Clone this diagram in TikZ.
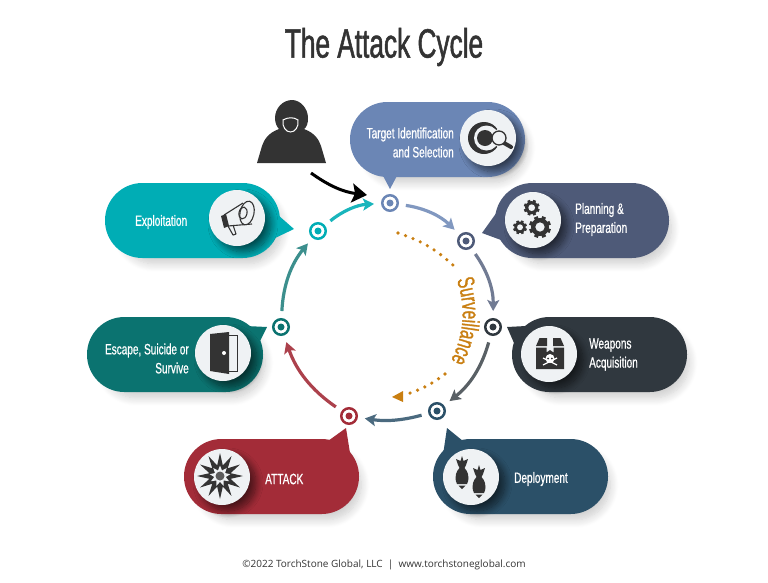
\documentclass[tikz,border=0pt]{standalone}
\usepackage{fontspec}
\usetikzlibrary{arrows.meta,shapes.geometric,decorations.text,shadows.blur}
\newfontfamily\labelfont[FakeStretch=0.67,FakeBold=0.7]{Liberation Sans}
\newfontfamily\titlefont[FakeStretch=0.64,FakeBold=1.2]{Liberation Sans}
\newfontfamily\footfont{Open Sans}
\definecolor{tgtc}{HTML}{6B86B5}
\definecolor{planc}{HTML}{4E5A78}
\definecolor{weapc}{HTML}{30383F}
\definecolor{depc}{HTML}{2B5068}
\definecolor{atkc}{HTML}{A32C38}
\definecolor{escc}{HTML}{0B7370}
\definecolor{expc}{HTML}{00ADB5}
\definecolor{survc}{HTML}{C97F12}
\definecolor{iconc}{HTML}{333333}
\definecolor{disc}{HTML}{EFF2F4}
\newcommand{\gearicon}[3]{
  \foreach \a in {0,45,...,315} \draw[iconc, line width=#3*0.36pt] (#1,#2) -- ++(\a+22:#3);
  \fill[iconc] (#1,#2) circle (#3*0.82pt);
  \fill[disc] (#1,#2) circle (#3*0.42pt);
}
\newcommand{\bombicon}[2]{
  \fill[iconc] (#1,#2-22) -- (#1+1.5,#2-17) -- (#1+6,#2-19) -- (#1+4,#2-13) -- (#1+2,#2-9) -- (#1-2,#2-9) -- (#1-4,#2-13) -- (#1-6,#2-19) -- (#1-1.5,#2-17) -- cycle;
  \fill[iconc] (#1-6.5,#2) .. controls (#1-6.5,#2-6) and (#1-3,#2-11) .. (#1,#2-11) .. controls (#1+3,#2-11) and (#1+6.5,#2-6) .. (#1+6.5,#2) .. controls (#1+6.5,#2+2) and (#1+6,#2+4) .. (#1+5,#2+6) -- (#1-5,#2+6) .. controls (#1-6,#2+4) and (#1-6.5,#2+2) .. (#1-6.5,#2) -- cycle;
  \fill[iconc] (#1-3.5,#2+7.5) -- (#1+3.5,#2+7.5) -- (#1,#2+11) -- cycle;
}
\begin{document}
\begin{tikzpicture}[x=1pt, y=-1pt,
    pill/.style={rounded corners=37.4pt, blur shadow={shadow scale=0.93, shadow xshift=9pt, shadow yshift=-9pt, shadow blur steps=12, shadow blur radius=9pt, shadow opacity=20}},
    icon/.style={circle, fill=disc, minimum size=56pt, inner sep=0pt, blur shadow={shadow xshift=6pt, shadow yshift=-6pt, shadow blur steps=12, shadow blur radius=7pt, shadow opacity=55}},
    ring/.style={circle, draw=#1, fill=white, line width=2.5pt, minimum size=15.5pt, inner sep=0pt, path picture={\fill[#1] (path picture bounding box.center) circle (3.5pt);}},
    conn/.style={-{Stealth[length=11pt, width=12pt, inset=2.5pt]}, line width=3.2pt, shorten >=7pt, shorten <=7pt, bend left=#1},
    lbl/.style={text=white, inner sep=0pt, font=\labelfont\fontsize{15}{19}\selectfont},
    dots/.style={survc, line width=3.6pt, line cap=round, dash pattern=on 0pt off 8pt}]
    \useasboundingbox (0,0) rectangle (768,582);
    \node[text=iconc, font=\titlefont\fontsize{41}{44}\selectfont] (title) at (384,47) {The Attack Cycle};

    \fill[pill, tgtc] (350,102) rectangle (525,177);
    \fill[tgtc] (381,172) -- (390,189) -- (399,172) -- cycle;
    \fill[pill, planc] (495,183) rectangle (669,258);
    \fill[planc] (497,212) -- (482,233) -- (501,240) -- cycle;
    \fill[pill, weapc] (512,317) rectangle (687,392);
    \fill[weapc] (526,326) -- (507,327) -- (514,343) -- cycle;
    \fill[pill, depc] (433,439) rectangle (608,514);
    \fill[depc] (463,441) -- (447,428) -- (443,455) -- cycle;
    \fill[pill, atkc] (184,439) rectangle (359,514);
    \fill[atkc] (328,441) -- (346,428) -- (350,453) -- cycle;
    \fill[pill, escc] (87,317) rectangle (263,392);
    \fill[escc] (246,326) -- (267,327) -- (258,345) -- cycle;
    \fill[pill, expc] (105,183) rectangle (280,258);
    \fill[expc] (278,215) -- (294,229) -- (271,240) -- cycle;

    \node[icon] (tgticon) at (488,138) {};
    \node[icon] (planicon) at (533,220) {};
    \node[icon] (weapicon) at (549,354) {};
    \node[icon] (depicon) at (471,477) {};
    \node[icon] (atkicon) at (222,477) {};
    \node[icon] (escicon) at (223,353) {};
    \node[icon] (expicon) at (237,218) {};

    \node[lbl, align=right, anchor=east] (tgtlbl) at (454,142.5) {Target Identification\\and Selection};
    \node[lbl, align=left, anchor=west] (planlbl) at (575,219.5) {Planning \&\\Preparation};
    \node[lbl, align=left, anchor=west] (weaplbl) at (589,354.5) {Weapons\\Acquisition};
    \node[lbl, anchor=west] (deplbl) at (514,479) {Deployment};
    \node[lbl, anchor=west] (atklbl) at (265,479) {ATTACK};
    \node[lbl, align=right, anchor=east] (esclbl) at (189,358.5) {Escape, Suicide or\\Survive};
    \node[lbl, anchor=west] (explbl) at (135,222) {Exploitation};

    \node[ring=tgtc] (tgt) at (390,203) {};
    \node[ring=planc] (plan) at (466,241) {};
    \node[ring=weapc] (weap) at (493,327) {};
    \node[ring=depc] (dep) at (437,411) {};
    \node[ring=atkc] (atk) at (349,416) {};
    \node[ring=escc] (esc) at (281,327) {};
    \node[ring=expc] (exp) at (318,231) {};

    \path (tgt) edge[conn=18, color=tgtc!85!white] (plan)
        (plan) edge[conn=18, color=planc!80!white] (weap)
        (weap) edge[conn=18, color=weapc!80!white] (dep)
        (dep) edge[conn=12, color=depc!85!white] (atk)
        (atk) edge[conn=18, color=atkc!90!white] (esc)
        (esc) edge[conn=18, color=escc!80!white] (exp)
        (exp) edge[conn=18, color=expc!90!white] (tgt);

    \fill[iconc] (292,100) .. controls (283,100) and (275,108) .. (275,118) .. controls (275,123) and (277,127) .. (279,129) .. controls (268,133) and (264,140) .. (262,146) -- (257,163) -- (326,163) -- (321,146) .. controls (319,140) and (315,133) .. (304,129) .. controls (307,127) and (308,123) .. (308,118) .. controls (308,108) and (300,100) .. (292,100) -- cycle;
    \draw[white, line width=1pt] (283,120) .. controls (288,117) and (294,117) .. (298,120) .. controls (299,127) and (295,132) .. (290.5,132) .. controls (286,132) and (282,127) .. (283,120) -- cycle;
    \coordinate (hoodend) at (311,173);
    \coordinate (hoodtip) at (367,195);
    \draw[black, -{Stealth[length=15pt, width=19pt, inset=3pt]}, line width=3pt] (hoodend) to[bend right=14] (hoodtip);

    \coordinate (dota) at (398,233);
    \coordinate (dotb) at (454,266);
    \coordinate (dotc) at (445,374);
    \coordinate (dotd) at (404,395);
    \draw[dots] (dota) to[bend left=12] (dotb);
    \draw[dots] (dotc) to[bend left=10] (dotd);
    \fill[survc] (392,397) -- (403,391) -- (403,402) -- cycle;
    \path[decorate, decoration={text along path, text align=center, text={|\titlefont\fontsize{24}{24}\selectfont\color{survc}|Surveillance}}] (454,272) to[bend left=25] (447,368);

    \fill[iconc] (484,138) circle (16pt);
    \fill[disc] (486.5,138) circle (12.5pt);
    \fill[disc] (488,138) -- (505,122) -- (505,154) -- cycle;
    \fill[iconc] (485,138) circle (8pt);
    \draw[iconc, line width=4pt, line cap=round] (504,143) -- (511,147);
    \draw[iconc, fill=disc, line width=1.3pt] (499,138) circle (7pt);

    \gearicon{540}{227}{11}
    \gearicon{531.7}{207.7}{8}
    \gearicon{520}{227.3}{7}

    \fill[iconc] (539.5,338) -- (547,338) -- (547,346) -- (536,346) -- cycle;
    \fill[iconc] (560.5,338) -- (553,338) -- (553,346) -- (564,346) -- cycle;
    \fill[iconc] (536,347.5) -- (546.5,347.5) -- (546.5,352.5) -- (550,350) -- (553.5,352.5) -- (553.5,347.5) -- (564,347.5) -- (564,369) -- (536,369) -- cycle;
    \draw[white, line width=1.2pt] (543,358) -- (557,365) (543,365) -- (557,358);
    \fill[white] (550,358.5) circle (4.5pt);
    \fill[iconc] (548.2,358.5) circle (1pt) (551.8,358.5) circle (1pt);

    \bombicon{462}{478}
    \bombicon{479}{487}

    \node[star, star points=12, star point ratio=2.1, minimum size=46pt, inner sep=0pt, fill=iconc] (blast) at (220,476) {};
    \node[star, star points=9, star point ratio=1.8, minimum size=21pt, inner sep=0pt, fill=disc] (blastin) at (220,476) {};
    \fill[iconc!80!white] (220,476) circle (4.5pt);

    \fill[iconc] (210,334) -- (229,332) -- (229,374) -- (210,371) -- cycle;
    \draw[iconc, line width=0.8pt] (229,335) -- (237,335) -- (237,371) -- (229,371);
    \fill[white] (224,353) circle (2pt);

    \draw[iconc, line width=1.1pt, line join=round] (224,215) -- (243,203) (228,226) -- (252,224) (228,226) -- (233,235) -- (236,234) -- (233,225);
    \draw[iconc, line width=1.1pt, fill=disc, rotate around={-12:(247,213)}] (247,213) ellipse (7pt and 12pt);
    \draw[iconc, line width=1.1pt, rotate around={-12:(243,213)}] (243,213) ellipse (4pt and 6pt);
    \fill[iconc] (221,216) -- (226,214) -- (229,226) -- (224,228) -- cycle;

    \node[text=iconc, font=\footfont\fontsize{10}{12}\selectfont] (foot) at (384,565) {©2022 TorchStone Global, LLC\ \ |\ \ www.torchstoneglobal.com};
\end{tikzpicture}
\end{document}
